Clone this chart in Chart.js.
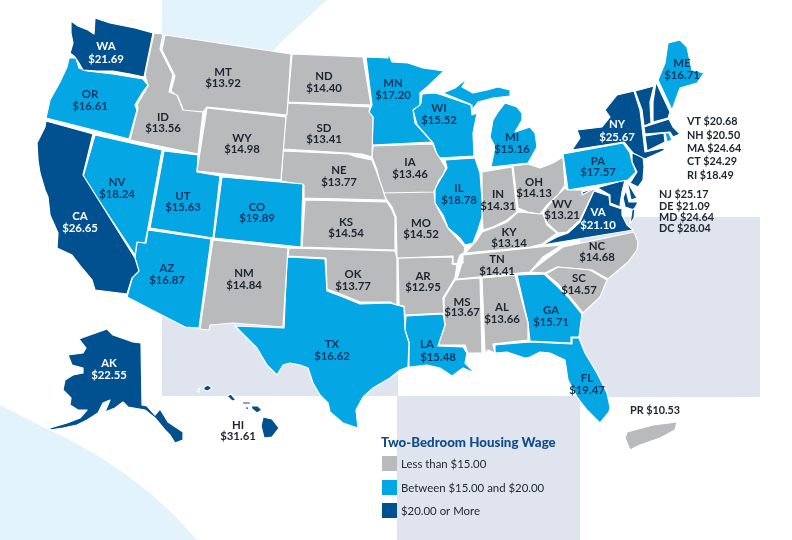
<!DOCTYPE html>
<html>
<head>
<meta charset="utf-8">
<title>Two-Bedroom Housing Wage</title>
<script src="https://cdn.jsdelivr.net/npm/chart.js@4/dist/chart.umd.min.js"></script>
<style>
    html, body { margin: 0; padding: 0; background: #fff; }
    canvas { display: block; }
</style>
</head>
<body>
<canvas id="wageMap" width="792" height="540"></canvas>
<script>
const stateCodes = ['WA','OR','CA','NV','ID','MT','WY','UT','AZ','CO','NM','ND','SD','NE','KS','OK','TX','MN','IA','MO','AR','LA','WI','IL','MI','IN','OH','KY','TN','MS','AL','GA','FL','SC','NC','VA','WV','PA','NY','ME','AK','HI','VT','NH','MA','CT','RI','NJ','DE','MD','DC','PR'];
const stateWages = [21.69,16.61,26.65,18.24,13.56,13.92,14.98,15.63,16.87,19.89,14.84,14.40,13.41,13.77,14.54,13.77,16.62,17.20,13.46,14.52,12.95,15.48,15.52,18.78,15.16,14.31,14.13,13.14,14.41,13.67,13.66,15.71,19.47,14.57,14.68,21.10,13.21,17.57,25.67,16.71,22.55,31.61,20.68,20.50,24.64,24.29,18.49,25.17,21.09,24.64,28.04,10.53];

// outlines, one list of rings per state, same order as stateCodes
const stateOutlines = [
    [[[71,21],[78,26],[88,30],[94,34],[95,18],[110,23],[135,28],[153,33],[144,77],[130,74],[113,71],[97,71],[83,70],[79,63],[75,57],[70,53],[73,43],[71,33]]],
    [[[69,58],[76,58],[79,68],[87,71],[113,74],[143,79],[148,85],[142,93],[135,105],[137,110],[129,139],[46,118],[50,100],[60,82],[67,67]]],
    [[[46,121],[93,134],[83,175],[135,258],[139,271],[132,278],[127,294],[95,290],[92,280],[82,268],[72,255],[57,248],[58,233],[50,215],[48,197],[45,190],[40,173],[38,160],[37,143],[45,127]]],
    [[[95,135],[162,150],[148,228],[145,243],[137,242],[135,255],[83,177]]],
    [[[154,33],[163,34],[160,49],[173,75],[169,92],[177,95],[183,110],[203,112],[198,154],[130,140],[138,108],[137,105],[148,86],[145,75]]],
    [[[165,35],[291,54],[287,115],[207,107],[203,112],[184,112],[178,97],[171,91],[175,76],[162,50]]],
    [[[207,108],[286,117],[281,180],[197,171]]],
    [[[164,151],[198,155],[197,172],[220,176],[213,238],[150,228]]],
    [[[148,230],[211,239],[199,328],[185,327],[127,297],[133,275],[138,270],[135,258],[137,242],[146,243]]],
    [[[222,177],[303,184],[301,247],[214,238]]],
    [[[213,240],[288,248],[283,327],[233,323],[210,325],[209,330],[200,329]]],
    [[[292,54],[363,57],[371,105],[288,102]]],
    [[[287,103],[370,107],[369,112],[373,117],[372,157],[362,154],[348,153],[283,149]]],
    [[[283,151],[348,154],[357,157],[372,160],[377,173],[383,190],[386,200],[304,198],[304,185],[281,181]]],
    [[[305,200],[387,202],[392,210],[395,217],[395,250],[302,247]]],
    [[[289,248],[395,251],[397,258],[397,305],[390,302],[373,302],[360,302],[343,295],[327,289],[326,258],[288,256]]],
    [[[287,257],[325,259],[327,291],[343,297],[360,304],[390,303],[404,307],[405,330],[409,343],[408,367],[400,370],[390,378],[373,388],[363,397],[356,410],[358,428],[343,423],[330,412],[328,403],[320,395],[313,383],[308,368],[300,365],[290,363],[283,365],[277,375],[267,365],[257,348],[235,326],[284,328]]],
    [[[366,57],[388,58],[388,52],[392,62],[408,63],[423,68],[444,71],[427,87],[420,93],[420,105],[413,110],[415,123],[432,142],[372,145],[373,117],[369,112],[372,105]]],
    [[[373,146],[433,144],[436,152],[446,168],[443,175],[439,180],[434,192],[382,193],[377,170],[372,157]]],
    [[[382,192],[434,190],[435,203],[448,228],[465,247],[464,253],[460,255],[457,264],[453,263],[453,256],[397,258],[396,217],[392,207],[387,200]]],
    [[[398,258],[453,257],[452,264],[457,265],[455,278],[443,298],[444,313],[405,315],[404,306],[399,305]]],
    [[[406,316],[443,314],[445,325],[438,346],[463,347],[467,353],[465,363],[475,373],[463,368],[452,376],[440,368],[427,365],[410,367],[409,342],[405,330]]],
    [[[422,94],[435,93],[442,95],[471,105],[472,115],[477,113],[473,133],[474,156],[438,158],[433,143],[417,125],[413,110],[421,103]]],
    [[[445,160],[475,158],[480,173],[482,200],[482,217],[478,230],[473,243],[465,245],[460,238],[448,228],[443,215],[435,203],[434,190],[440,180],[447,168]]],
    [[[443,93],[455,88],[467,78],[462,87],[473,93],[487,90],[498,87],[510,90],[510,96],[493,98],[478,102],[472,110],[470,104]],
     [[505,103],[517,107],[522,113],[522,120],[515,132],[530,127],[535,133],[537,147],[528,163],[491,167],[495,147],[490,137],[493,120],[498,112]]],
    [[[482,172],[512,167],[517,212],[507,220],[493,227],[483,230],[482,210]]],
    [[[513,166],[528,164],[540,168],[553,163],[563,157],[565,185],[558,195],[547,205],[540,214],[528,212],[518,208]]],
    [[[518,212],[530,213],[543,214],[547,225],[557,233],[542,244],[530,247],[520,248],[465,253],[477,240],[482,232],[493,228],[507,222]]],
    [[[463,255],[540,247],[562,245],[543,257],[530,272],[457,279],[462,263]]],
    [[[455,280],[480,278],[482,353],[468,353],[465,345],[438,345],[445,325],[443,300]]],
    [[[482,278],[515,275],[528,323],[528,340],[493,344],[495,353],[488,350],[485,353]]],
    [[[517,275],[544,274],[556,285],[569,298],[582,314],[579,337],[571,337],[571,343],[530,341],[528,323]]],
    [[[495,345],[530,342],[572,344],[572,338],[579,338],[585,353],[597,373],[607,393],[610,407],[609,412],[600,423],[587,410],[577,397],[568,380],[565,360],[550,353],[540,352],[530,357],[525,358],[507,352],[495,353]]],
    [[[546,274],[558,267],[590,270],[607,280],[600,297],[583,313],[570,297],[557,283]]],
    [[[563,247],[634,232],[638,242],[637,250],[628,262],[608,279],[592,270],[557,267],[545,273],[530,272],[545,260]]],
    [[[542,245],[557,237],[568,233],[580,222],[594,191],[609,196],[610,205],[622,209],[622,215],[627,225],[633,230]],
     [[632,210],[635,208],[634,218],[630,224]]],
    [[[565,188],[568,190],[582,190],[582,195],[593,189],[600,193],[593,193],[580,220],[567,232],[558,233],[547,223],[543,213],[555,197],[563,190]]],
    [[[563,154],[623,143],[630,153],[632,162],[636,172],[628,180],[568,190]]],
    [[[572,150],[580,138],[577,130],[602,127],[610,117],[605,110],[617,95],[634,91],[640,110],[645,152],[663,148],[665,150],[645,159],[633,153],[624,142]]],
    [[[658,80],[665,63],[668,43],[680,40],[687,47],[692,70],[704,73],[697,83],[680,88],[672,110]]],
    [[[79,339],[90,335],[107,329],[113,335],[133,342],[141,343],[142,405],[147,406],[155,415],[160,409],[168,422],[183,432],[183,440],[175,443],[170,435],[165,430],[155,418],[145,410],[128,407],[123,402],[115,408],[105,412],[110,400],[103,403],[98,413],[87,420],[77,425],[63,428],[50,430],[50,428],[67,423],[80,418],[87,410],[78,410],[70,405],[71,398],[63,390],[65,380],[73,375],[83,373],[83,368],[72,365],[68,355],[83,353],[86,348]]],
    [[[204,387],[208,385],[212,388],[208,391],[204,390]],
     [[197,391],[200,388],[199,392]],
     [[227,396],[231,394],[236,400],[232,401]],
     [[242,402],[250,402],[251,404],[243,404]],
     [[245,407],[249,407],[248,410],[246,409]],
     [[251,406],[258,406],[262,410],[257,413],[252,409]],
     [[263,417],[272,419],[279,428],[272,437],[264,438],[261,426]]],
    [[[635,91],[654,86],[650,102],[651,123],[644,126],[642,110]]],
    [[[656,82],[670,112],[668,118],[653,122],[653,102]]],
    [[[644,127],[669,119],[673,127],[680,134],[673,137],[670,132],[645,134]]],
    [[[645,136],[664,133],[665,142],[647,151]]],
    [[[665,133],[669,133],[672,140],[667,142]]],
    [[[632,153],[643,156],[644,167],[643,180],[638,187],[630,183],[637,172],[632,162]]],
    [[[627,180],[631,188],[637,198],[631,200]]],
    [[[582,192],[625,180],[622,192],[620,205],[623,208],[610,203],[610,195],[596,187],[583,197]],
     [[626,190],[629,202],[638,202],[634,210],[625,207],[623,198]]],
    [],
    [[[627,432],[653,425],[677,422],[675,430],[660,438],[640,445],[630,450],[625,438]]]
];

// x of the code, y of the code, y of the wage, and for LA a separate x of the wage
const stateLabelSpots = [
    [106,46,59],[90,94,106],[80,216,228],[117,182,194],[163,117,128],[223,72,83],[242,138,149],[183,196,207],[167,268,280],[257,207,218],
    [244,273,285],[324,76,88],[324,128,139],[339,170,182],[346,222,233],[353,274,286],[332,344,356],[393,83,95],[410,162,174],[421,223,234],
    [423,276,287],[427,344,357,438],[439,108,120],[459,188,200],[512,137,149],[498,194,206],[534,182,193],[509,232,243],[497,259,271],[462,302,312],
    [502,307,319],[551,310,322],[587,378,390],[579,278,290],[597,246,257],[598,212,225],[562,204,215],[598,161,172],[617,124,137],[682,63,75],
    [109,363,375],[238,425,436]
];

// the small states carry their figure on one line beside the map
const calloutCodes = ['VT','NH','MA','CT','RI','NJ','DE','MD','DC','PR'];
const calloutSpots = [[687,122],[687,136],[687,149],[687,162],[687,176],[659,195],[659,207],[659,218],[659,229],[630,411]];

const legendTitle = 'Two-Bedroom Housing Wage';
const legendLabels = ['Less than $15.00', 'Between $15.00 and $20.00', '$20.00 or More'];
const legendSwatches = [
    [[382,456],[397,456],[397,471],[382,471]],
    [[382,480],[397,480],[397,495],[382,495]],
    [[382,503],[397,503],[397,518],[382,518]]
];

const paleShapes = [
    [[162,0],[327,0],[280,43],[270,55],[162,55]],
    [[0,405],[43,427],[70,440],[100,457],[125,474],[150,493],[175,516],[197,540],[0,540]]
];
const lavenderShapes = [
    [[162,312],[398,312],[398,396],[162,396]],
    [[580,217],[760,217],[760,397],[580,397]],
    [[397,396],[580,396],[580,540],[397,540]]
];

const GREY = '#b9babc';
const BLUE = '#04a6e4';
const NAVY = '#01508f';

function bandColor(wage) {
    if (wage < 15) return GREY;
    if (wage < 20) return BLUE;
    return NAVY;
}

function textColor(wage) {
    if (wage < 15) return '#1c2530';
    if (wage < 20) return '#0c3a66';
    return '#ffffff';
}

function polygon(ring, color, borderWidth) {
    const points = ring.concat([ring[0]]).map(p => ({ x: p[0], y: p[1] }));
    return {
        data: points,
        showLine: true,
        fill: 'shape',
        backgroundColor: color,
        borderColor: borderWidth ? '#ffffff' : color,
        borderWidth: borderWidth,
        borderJoinStyle: 'round',
        pointRadius: 0,
        tension: 0
    };
}

// the first dataset is painted last, so the map goes in front of the backdrop
const datasets = [];
legendSwatches.forEach((ring, i) => {
    const color = [GREY, BLUE, NAVY][i];
    datasets.push(polygon(ring, color, 0));
});
stateOutlines.forEach((rings, i) => {
    rings.forEach(ring => datasets.push(polygon(ring, bandColor(stateWages[i]), 1.2)));
});
lavenderShapes.forEach(ring => datasets.push(polygon(ring, '#dfe4ef', 0)));
paleShapes.forEach(ring => datasets.push(polygon(ring, '#e3f3fb', 0)));

const labelPlugin = {
    id: 'mapLabels',
    afterDatasetsDraw(chart) {
        const { ctx, scales } = chart;
        const px = v => scales.x.getPixelForValue(v);
        const py = v => scales.y.getPixelForValue(v);

        ctx.save();
        ctx.textBaseline = 'middle';
        ctx.font = '700 11.4px Lato';
        ctx.textAlign = 'center';
        stateLabelSpots.forEach((spot, i) => {
            const wage = stateWages[i];
            ctx.fillStyle = stateCodes[i] === 'HI' ? '#1c2530' : textColor(wage);
            ctx.fillText(stateCodes[i], px(spot[0]), py(spot[1]));
            ctx.fillText('$' + wage.toFixed(2), px(spot[3] || spot[0]), py(spot[2]));
        });

        ctx.textAlign = 'left';
        ctx.fillStyle = '#1c2530';
        ctx.font = '700 10.8px Lato';
        calloutCodes.forEach((code, i) => {
            const wage = stateWages[stateCodes.indexOf(code)];
            ctx.fillText(code + ' $' + wage.toFixed(2), px(calloutSpots[i][0]), py(calloutSpots[i][1]));
        });

        ctx.font = '900 13.3px Lato';
        ctx.fillStyle = '#124c86';
        ctx.fillText(legendTitle, px(381), py(443));
        ctx.font = '400 11.4px Lato';
        ctx.fillStyle = '#222a33';
        legendLabels.forEach((label, i) => {
            ctx.fillText(label, px(401), py(legendSwatches[i][0][1] + 8.5));
        });
        ctx.restore();
    }
};

new Chart(document.getElementById('wageMap'), {
    type: 'scatter',
    data: { datasets: datasets },
    options: {
        responsive: false,
        animation: false,
        layout: { padding: 0 },
        scales: {
            x: { type: 'linear', min: 0, max: 792, display: false },
            y: { type: 'linear', min: 0, max: 540, reverse: true, display: false }
        },
        plugins: {
            legend: { display: false },
            tooltip: { enabled: false }
        }
    },
    plugins: [labelPlugin]
});
</script>
</body>
</html>
